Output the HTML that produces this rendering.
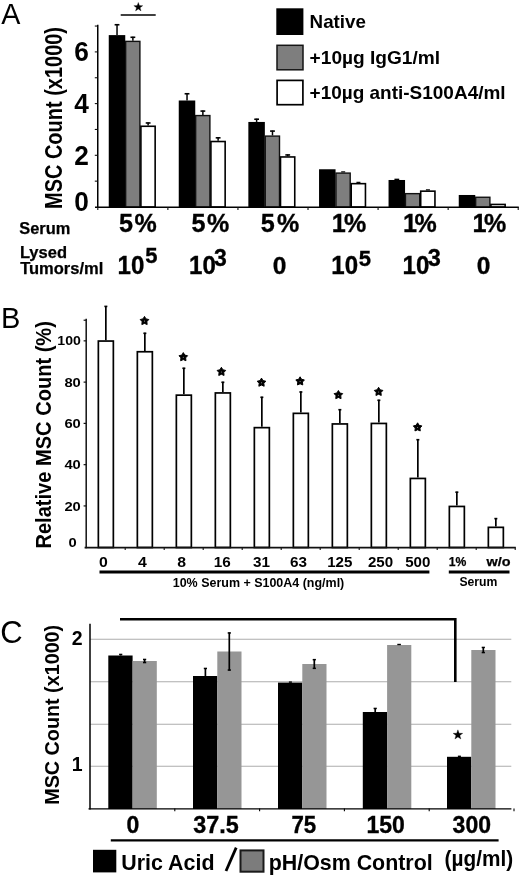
<!DOCTYPE html>
<html><head><meta charset="utf-8"><title>Figure</title>
<style>
html,body{margin:0;padding:0;background:#fff;}
svg{display:block;font-family:"Liberation Sans", sans-serif;}
</style></head><body>
<svg width="520" height="876" viewBox="0 0 520 876">
<rect x="0" y="0" width="520" height="876" fill="#fff"/>
<text x="1.30" y="23.50" font-size="28.7" font-weight="normal" text-anchor="start" fill="#000">A</text>
<line x1="117.03" y1="35.10" x2="117.03" y2="24.24" stroke="#000" stroke-width="1.5"/>
<line x1="114.62" y1="24.74" x2="119.43" y2="24.74" stroke="#000" stroke-width="1.6"/>
<rect x="108.75" y="35.10" width="16.50" height="171.90" fill="#000"/>
<line x1="132.88" y1="40.78" x2="132.88" y2="36.78" stroke="#000" stroke-width="1.5"/>
<line x1="130.47" y1="37.28" x2="135.28" y2="37.28" stroke="#000" stroke-width="1.6"/>
<rect x="125.65" y="41.38" width="14.25" height="165.62" fill="#7e7e7e" stroke="#111" stroke-width="1.4"/>
<line x1="148.12" y1="125.57" x2="148.12" y2="122.47" stroke="#000" stroke-width="1.5"/>
<line x1="145.72" y1="122.97" x2="150.53" y2="122.97" stroke="#000" stroke-width="1.6"/>
<rect x="140.90" y="126.27" width="14.25" height="80.73" fill="#fff" stroke="#000" stroke-width="1.6"/>
<line x1="187.03" y1="100.50" x2="187.03" y2="93.26" stroke="#000" stroke-width="1.5"/>
<line x1="184.62" y1="93.76" x2="189.43" y2="93.76" stroke="#000" stroke-width="1.6"/>
<rect x="178.75" y="100.50" width="16.50" height="106.50" fill="#000"/>
<line x1="202.88" y1="114.97" x2="202.88" y2="110.58" stroke="#000" stroke-width="1.5"/>
<line x1="200.47" y1="111.08" x2="205.28" y2="111.08" stroke="#000" stroke-width="1.6"/>
<rect x="195.65" y="115.57" width="14.25" height="91.43" fill="#7e7e7e" stroke="#111" stroke-width="1.4"/>
<line x1="218.12" y1="140.82" x2="218.12" y2="137.33" stroke="#000" stroke-width="1.5"/>
<line x1="215.72" y1="137.83" x2="220.53" y2="137.83" stroke="#000" stroke-width="1.6"/>
<rect x="210.90" y="141.52" width="14.25" height="65.48" fill="#fff" stroke="#000" stroke-width="1.6"/>
<line x1="256.62" y1="121.95" x2="256.62" y2="118.72" stroke="#000" stroke-width="1.5"/>
<line x1="254.22" y1="119.22" x2="259.02" y2="119.22" stroke="#000" stroke-width="1.6"/>
<rect x="248.35" y="121.95" width="16.50" height="85.05" fill="#000"/>
<line x1="272.48" y1="135.50" x2="272.48" y2="130.59" stroke="#000" stroke-width="1.5"/>
<line x1="270.08" y1="131.09" x2="274.88" y2="131.09" stroke="#000" stroke-width="1.6"/>
<rect x="265.25" y="136.10" width="14.25" height="70.90" fill="#7e7e7e" stroke="#111" stroke-width="1.4"/>
<line x1="287.73" y1="156.26" x2="287.73" y2="154.45" stroke="#000" stroke-width="1.5"/>
<line x1="285.33" y1="154.95" x2="290.12" y2="154.95" stroke="#000" stroke-width="1.6"/>
<rect x="280.50" y="156.96" width="14.25" height="50.04" fill="#fff" stroke="#000" stroke-width="1.6"/>
<rect x="319.05" y="169.26" width="16.50" height="37.74" fill="#000"/>
<line x1="341.18" y1="171.89" x2="345.18" y2="171.89" stroke="#000" stroke-width="1.2"/>
<rect x="335.95" y="173.09" width="14.25" height="33.91" fill="#7e7e7e" stroke="#111" stroke-width="1.4"/>
<line x1="356.43" y1="182.36" x2="360.43" y2="182.36" stroke="#000" stroke-width="1.2"/>
<rect x="351.20" y="183.66" width="14.25" height="23.34" fill="#fff" stroke="#000" stroke-width="1.6"/>
<line x1="396.82" y1="179.99" x2="396.82" y2="178.95" stroke="#000" stroke-width="1.5"/>
<line x1="394.43" y1="179.45" x2="399.22" y2="179.45" stroke="#000" stroke-width="1.6"/>
<rect x="388.55" y="179.99" width="16.50" height="27.01" fill="#000"/>
<rect x="405.45" y="193.64" width="14.25" height="13.36" fill="#7e7e7e" stroke="#111" stroke-width="1.4"/>
<line x1="425.93" y1="189.86" x2="429.93" y2="189.86" stroke="#000" stroke-width="1.2"/>
<rect x="420.70" y="191.16" width="14.25" height="15.84" fill="#fff" stroke="#000" stroke-width="1.6"/>
<rect x="458.75" y="194.98" width="16.50" height="12.02" fill="#000"/>
<rect x="475.65" y="197.26" width="14.25" height="9.74" fill="#7e7e7e" stroke="#111" stroke-width="1.4"/>
<rect x="490.90" y="204.44" width="14.25" height="2.56" fill="#fff" stroke="#000" stroke-width="1.6"/>
<line x1="97.75" y1="24.80" x2="97.75" y2="207.70" stroke="#000" stroke-width="1.5"/>
<line x1="95.00" y1="207.20" x2="518.80" y2="207.20" stroke="#000" stroke-width="1.6"/>
<line x1="97.80" y1="207.00" x2="97.80" y2="210.00" stroke="#111" stroke-width="1.1"/>
<line x1="167.87" y1="207.00" x2="167.87" y2="210.00" stroke="#111" stroke-width="1.1"/>
<line x1="237.94" y1="207.00" x2="237.94" y2="210.00" stroke="#111" stroke-width="1.1"/>
<line x1="308.01" y1="207.00" x2="308.01" y2="210.00" stroke="#111" stroke-width="1.1"/>
<line x1="378.08" y1="207.00" x2="378.08" y2="210.00" stroke="#111" stroke-width="1.1"/>
<line x1="448.15" y1="207.00" x2="448.15" y2="210.00" stroke="#111" stroke-width="1.1"/>
<line x1="518.22" y1="207.00" x2="518.22" y2="210.00" stroke="#111" stroke-width="1.1"/>
<line x1="94.80" y1="181.15" x2="97.60" y2="181.15" stroke="#111" stroke-width="1.1"/>
<line x1="94.80" y1="155.30" x2="97.60" y2="155.30" stroke="#111" stroke-width="1.1"/>
<line x1="94.80" y1="129.45" x2="97.60" y2="129.45" stroke="#111" stroke-width="1.1"/>
<line x1="94.80" y1="103.60" x2="97.60" y2="103.60" stroke="#111" stroke-width="1.1"/>
<line x1="94.80" y1="77.75" x2="97.60" y2="77.75" stroke="#111" stroke-width="1.1"/>
<line x1="94.80" y1="51.90" x2="97.60" y2="51.90" stroke="#111" stroke-width="1.1"/>
<line x1="94.80" y1="26.05" x2="97.60" y2="26.05" stroke="#111" stroke-width="1.1"/>
<text x="74.30" y="211.30" font-size="27" font-weight="bold" text-anchor="start" fill="#000" textLength="14.6" lengthAdjust="spacingAndGlyphs">0</text>
<text x="74.30" y="164.80" font-size="27" font-weight="bold" text-anchor="start" fill="#000" textLength="14.6" lengthAdjust="spacingAndGlyphs">2</text>
<text x="74.30" y="113.10" font-size="27" font-weight="bold" text-anchor="start" fill="#000" textLength="14.6" lengthAdjust="spacingAndGlyphs">4</text>
<text x="74.30" y="61.40" font-size="27" font-weight="bold" text-anchor="start" fill="#000" textLength="14.6" lengthAdjust="spacingAndGlyphs">6</text>
<text x="62.30" y="209.00" font-size="23.5" font-weight="bold" text-anchor="start" fill="#000" textLength="182" lengthAdjust="spacingAndGlyphs" transform="rotate(-90 62.30 209.00)">MSC Count (x1000)</text>
<line x1="120.70" y1="15.00" x2="155.70" y2="15.00" stroke="#000" stroke-width="1.7"/>
<polygon points="138.30,2.40 139.41,5.58 142.77,5.65 140.09,7.68 141.06,10.90 138.30,8.98 135.54,10.90 136.51,7.68 133.83,5.65 137.19,5.58" fill="#000" stroke="#000" stroke-width="0.3" stroke-linejoin="round"/>
<rect x="276.30" y="8.30" width="27.10" height="26.70" fill="#000"/>
<rect x="277.00" y="45.30" width="26.00" height="24.50" fill="#7e7e7e" stroke="#151515" stroke-width="1.5"/>
<rect x="277.10" y="80.40" width="25.80" height="24.30" fill="#fff" stroke="#000" stroke-width="1.7"/>
<text x="309.60" y="28.20" font-size="18.2" font-weight="bold" text-anchor="start" fill="#000" textLength="56.3" lengthAdjust="spacingAndGlyphs">Native</text>
<text x="309.60" y="63.80" font-size="18.2" font-weight="bold" text-anchor="start" fill="#000" textLength="130.5" lengthAdjust="spacingAndGlyphs">+10µg IgG1/ml</text>
<text x="309.60" y="98.80" font-size="18.2" font-weight="bold" text-anchor="start" fill="#000" textLength="196" lengthAdjust="spacingAndGlyphs">+10µg anti-S100A4/ml</text>
<text x="19.30" y="233.80" font-size="16.4" font-weight="bold" text-anchor="start" fill="#000" stroke="#000" stroke-width="0.25">Serum</text>
<text x="19.90" y="258.40" font-size="16.5" font-weight="bold" text-anchor="start" fill="#000" stroke="#000" stroke-width="0.25">Lysed</text>
<text x="20.20" y="273.90" font-size="16.5" font-weight="bold" text-anchor="start" fill="#000" stroke="#000" stroke-width="0.25">Tumors/ml</text>
<text x="119.10" y="232.20" font-size="25.2" font-weight="bold" text-anchor="start" fill="#000" stroke="#000" stroke-width="0.35">5</text>
<text x="134.60" y="232.20" font-size="25" font-weight="bold" text-anchor="start" fill="#000" stroke="#000" stroke-width="0.35">%</text>
<text x="191.60" y="232.20" font-size="25.2" font-weight="bold" text-anchor="start" fill="#000" stroke="#000" stroke-width="0.35">5</text>
<text x="207.10" y="232.20" font-size="25" font-weight="bold" text-anchor="start" fill="#000" stroke="#000" stroke-width="0.35">%</text>
<text x="260.85" y="232.20" font-size="25.2" font-weight="bold" text-anchor="start" fill="#000" stroke="#000" stroke-width="0.35">5</text>
<text x="277.10" y="232.20" font-size="25" font-weight="bold" text-anchor="start" fill="#000" stroke="#000" stroke-width="0.35">%</text>
<text x="331.70" y="232.20" font-size="25.2" font-weight="bold" text-anchor="start" fill="#000" stroke="#000" stroke-width="0.35">1</text>
<text x="344.10" y="232.20" font-size="25" font-weight="bold" text-anchor="start" fill="#000" stroke="#000" stroke-width="0.35">%</text>
<text x="402.95" y="232.20" font-size="25.2" font-weight="bold" text-anchor="start" fill="#000" stroke="#000" stroke-width="0.35">1</text>
<text x="414.60" y="232.20" font-size="25" font-weight="bold" text-anchor="start" fill="#000" stroke="#000" stroke-width="0.35">%</text>
<text x="472.45" y="232.20" font-size="25.2" font-weight="bold" text-anchor="start" fill="#000" stroke="#000" stroke-width="0.35">1</text>
<text x="484.10" y="232.20" font-size="25" font-weight="bold" text-anchor="start" fill="#000" stroke="#000" stroke-width="0.35">%</text>
<text x="117.50" y="273.70" font-size="25" font-weight="bold" text-anchor="start" fill="#000" textLength="26.8" lengthAdjust="spacingAndGlyphs" stroke="#000" stroke-width="0.35">10</text>
<text x="145.30" y="263.20" font-size="22" font-weight="bold" text-anchor="start" fill="#000" stroke="#000" stroke-width="0.35">5</text>
<text x="189.10" y="273.70" font-size="25" font-weight="bold" text-anchor="start" fill="#000" textLength="26.8" lengthAdjust="spacingAndGlyphs" stroke="#000" stroke-width="0.35">10</text>
<text x="214.10" y="265.60" font-size="23" font-weight="bold" text-anchor="start" fill="#000" stroke="#000" stroke-width="0.35">3</text>
<text x="279.60" y="273.50" font-size="24.5" font-weight="bold" text-anchor="middle" fill="#000" stroke="#000" stroke-width="0.35">0</text>
<text x="331.30" y="273.70" font-size="25" font-weight="bold" text-anchor="start" fill="#000" textLength="26.8" lengthAdjust="spacingAndGlyphs" stroke="#000" stroke-width="0.35">10</text>
<text x="358.70" y="265.50" font-size="22" font-weight="bold" text-anchor="start" fill="#000" stroke="#000" stroke-width="0.35">5</text>
<text x="402.60" y="273.70" font-size="25" font-weight="bold" text-anchor="start" fill="#000" textLength="26.8" lengthAdjust="spacingAndGlyphs" stroke="#000" stroke-width="0.35">10</text>
<text x="427.70" y="266.00" font-size="23.5" font-weight="bold" text-anchor="start" fill="#000" stroke="#000" stroke-width="0.35">3</text>
<text x="483.60" y="273.50" font-size="24.5" font-weight="bold" text-anchor="middle" fill="#000" stroke="#000" stroke-width="0.35">0</text>
<text x="1.10" y="327.50" font-size="29" font-weight="normal" text-anchor="start" fill="#000">B</text>
<line x1="105.85" y1="340.20" x2="105.85" y2="305.90" stroke="#000" stroke-width="1.7"/>
<line x1="104.35" y1="306.40" x2="107.35" y2="306.40" stroke="#000" stroke-width="1.6"/>
<rect x="98.35" y="341.05" width="15.00" height="206.45" fill="#fff" stroke="#000" stroke-width="1.7"/>
<line x1="144.85" y1="350.90" x2="144.85" y2="332.80" stroke="#000" stroke-width="1.7"/>
<line x1="143.35" y1="333.30" x2="146.35" y2="333.30" stroke="#000" stroke-width="1.6"/>
<rect x="137.35" y="351.75" width="15.00" height="195.75" fill="#fff" stroke="#000" stroke-width="1.7"/>
<polygon points="144.50,316.40 145.95,318.90 148.78,319.51 146.85,321.66 147.15,324.54 144.50,323.38 141.85,324.54 142.15,321.66 140.22,319.51 143.05,318.90" fill="#000" stroke="#000" stroke-width="1.0" stroke-linejoin="round"/>
<circle cx="144.50" cy="321.10" r="0.55" fill="#9a9a9a"/>
<line x1="183.85" y1="394.30" x2="183.85" y2="367.80" stroke="#000" stroke-width="1.7"/>
<line x1="182.35" y1="368.30" x2="185.35" y2="368.30" stroke="#000" stroke-width="1.6"/>
<rect x="176.35" y="395.15" width="15.00" height="152.35" fill="#fff" stroke="#000" stroke-width="1.7"/>
<polygon points="183.30,352.60 184.75,355.10 187.58,355.71 185.65,357.86 185.95,360.74 183.30,359.58 180.65,360.74 180.95,357.86 179.02,355.71 181.85,355.10" fill="#000" stroke="#000" stroke-width="1.0" stroke-linejoin="round"/>
<circle cx="183.30" cy="357.30" r="0.55" fill="#9a9a9a"/>
<line x1="222.85" y1="392.10" x2="222.85" y2="381.80" stroke="#000" stroke-width="1.7"/>
<line x1="221.35" y1="382.30" x2="224.35" y2="382.30" stroke="#000" stroke-width="1.6"/>
<rect x="215.35" y="392.95" width="15.00" height="154.55" fill="#fff" stroke="#000" stroke-width="1.7"/>
<polygon points="221.40,367.30 222.85,369.80 225.68,370.41 223.75,372.56 224.05,375.44 221.40,374.28 218.75,375.44 219.05,372.56 217.12,370.41 219.95,369.80" fill="#000" stroke="#000" stroke-width="1.0" stroke-linejoin="round"/>
<circle cx="221.40" cy="372.00" r="0.55" fill="#9a9a9a"/>
<line x1="261.85" y1="426.80" x2="261.85" y2="396.80" stroke="#000" stroke-width="1.7"/>
<line x1="260.35" y1="397.30" x2="263.35" y2="397.30" stroke="#000" stroke-width="1.6"/>
<rect x="254.35" y="427.65" width="15.00" height="119.85" fill="#fff" stroke="#000" stroke-width="1.7"/>
<polygon points="261.50,378.10 262.95,380.60 265.78,381.21 263.85,383.36 264.15,386.24 261.50,385.08 258.85,386.24 259.15,383.36 257.22,381.21 260.05,380.60" fill="#000" stroke="#000" stroke-width="1.0" stroke-linejoin="round"/>
<circle cx="261.50" cy="382.80" r="0.55" fill="#9a9a9a"/>
<line x1="300.85" y1="412.50" x2="300.85" y2="391.50" stroke="#000" stroke-width="1.7"/>
<line x1="299.35" y1="392.00" x2="302.35" y2="392.00" stroke="#000" stroke-width="1.6"/>
<rect x="293.35" y="413.35" width="15.00" height="134.15" fill="#fff" stroke="#000" stroke-width="1.7"/>
<polygon points="300.10,376.80 301.55,379.30 304.38,379.91 302.45,382.06 302.75,384.94 300.10,383.78 297.45,384.94 297.75,382.06 295.82,379.91 298.65,379.30" fill="#000" stroke="#000" stroke-width="1.0" stroke-linejoin="round"/>
<circle cx="300.10" cy="381.50" r="0.55" fill="#9a9a9a"/>
<line x1="339.85" y1="423.10" x2="339.85" y2="409.20" stroke="#000" stroke-width="1.7"/>
<line x1="338.35" y1="409.70" x2="341.35" y2="409.70" stroke="#000" stroke-width="1.6"/>
<rect x="332.35" y="423.95" width="15.00" height="123.55" fill="#fff" stroke="#000" stroke-width="1.7"/>
<polygon points="338.40,390.50 339.85,393.00 342.68,393.61 340.75,395.76 341.05,398.64 338.40,397.48 335.75,398.64 336.05,395.76 334.12,393.61 336.95,393.00" fill="#000" stroke="#000" stroke-width="1.0" stroke-linejoin="round"/>
<circle cx="338.40" cy="395.20" r="0.55" fill="#9a9a9a"/>
<line x1="378.85" y1="422.60" x2="378.85" y2="399.80" stroke="#000" stroke-width="1.7"/>
<line x1="377.35" y1="400.30" x2="380.35" y2="400.30" stroke="#000" stroke-width="1.6"/>
<rect x="371.35" y="423.45" width="15.00" height="124.05" fill="#fff" stroke="#000" stroke-width="1.7"/>
<polygon points="378.60,387.30 380.05,389.80 382.88,390.41 380.95,392.56 381.25,395.44 378.60,394.28 375.95,395.44 376.25,392.56 374.32,390.41 377.15,389.80" fill="#000" stroke="#000" stroke-width="1.0" stroke-linejoin="round"/>
<circle cx="378.60" cy="392.00" r="0.55" fill="#9a9a9a"/>
<line x1="417.85" y1="477.60" x2="417.85" y2="439.20" stroke="#000" stroke-width="1.7"/>
<line x1="416.35" y1="439.70" x2="419.35" y2="439.70" stroke="#000" stroke-width="1.6"/>
<rect x="410.35" y="478.45" width="15.00" height="69.05" fill="#fff" stroke="#000" stroke-width="1.7"/>
<polygon points="417.60,422.80 419.05,425.30 421.88,425.91 419.95,428.06 420.25,430.94 417.60,429.78 414.95,430.94 415.25,428.06 413.32,425.91 416.15,425.30" fill="#000" stroke="#000" stroke-width="1.0" stroke-linejoin="round"/>
<circle cx="417.60" cy="427.50" r="0.55" fill="#9a9a9a"/>
<line x1="456.85" y1="505.60" x2="456.85" y2="491.70" stroke="#000" stroke-width="1.7"/>
<line x1="455.35" y1="492.20" x2="458.35" y2="492.20" stroke="#000" stroke-width="1.6"/>
<rect x="449.35" y="506.45" width="15.00" height="41.05" fill="#fff" stroke="#000" stroke-width="1.7"/>
<line x1="495.85" y1="526.50" x2="495.85" y2="518.10" stroke="#000" stroke-width="1.7"/>
<line x1="494.35" y1="518.60" x2="497.35" y2="518.60" stroke="#000" stroke-width="1.6"/>
<rect x="488.35" y="527.35" width="15.00" height="20.15" fill="#fff" stroke="#000" stroke-width="1.7"/>
<line x1="86.20" y1="318.80" x2="86.20" y2="548.30" stroke="#111" stroke-width="1.5"/>
<line x1="84.60" y1="547.60" x2="515.80" y2="547.60" stroke="#111" stroke-width="1.6"/>
<line x1="125.20" y1="547.50" x2="125.20" y2="550.00" stroke="#111" stroke-width="1.1"/>
<line x1="164.20" y1="547.50" x2="164.20" y2="550.00" stroke="#111" stroke-width="1.1"/>
<line x1="203.20" y1="547.50" x2="203.20" y2="550.00" stroke="#111" stroke-width="1.1"/>
<line x1="242.20" y1="547.50" x2="242.20" y2="550.00" stroke="#111" stroke-width="1.1"/>
<line x1="281.20" y1="547.50" x2="281.20" y2="550.00" stroke="#111" stroke-width="1.1"/>
<line x1="320.20" y1="547.50" x2="320.20" y2="550.00" stroke="#111" stroke-width="1.1"/>
<line x1="359.20" y1="547.50" x2="359.20" y2="550.00" stroke="#111" stroke-width="1.1"/>
<line x1="398.20" y1="547.50" x2="398.20" y2="550.00" stroke="#111" stroke-width="1.1"/>
<line x1="437.20" y1="547.50" x2="437.20" y2="550.00" stroke="#111" stroke-width="1.1"/>
<line x1="476.20" y1="547.50" x2="476.20" y2="550.00" stroke="#111" stroke-width="1.1"/>
<line x1="515.20" y1="547.50" x2="515.20" y2="550.00" stroke="#111" stroke-width="1.1"/>
<line x1="83.60" y1="505.93" x2="86.20" y2="505.93" stroke="#111" stroke-width="1.2"/>
<line x1="83.60" y1="464.66" x2="86.20" y2="464.66" stroke="#111" stroke-width="1.2"/>
<line x1="83.60" y1="423.39" x2="86.20" y2="423.39" stroke="#111" stroke-width="1.2"/>
<line x1="83.60" y1="382.12" x2="86.20" y2="382.12" stroke="#111" stroke-width="1.2"/>
<line x1="83.60" y1="340.85" x2="86.20" y2="340.85" stroke="#111" stroke-width="1.2"/>
<line x1="83.60" y1="320.22" x2="86.20" y2="320.22" stroke="#111" stroke-width="1.2"/>
<text x="80.80" y="510.53" font-size="13.4" font-weight="bold" text-anchor="end" fill="#000" textLength="16.4" lengthAdjust="spacingAndGlyphs">20</text>
<text x="80.80" y="469.26" font-size="13.4" font-weight="bold" text-anchor="end" fill="#000" textLength="16.4" lengthAdjust="spacingAndGlyphs">40</text>
<text x="80.80" y="427.99" font-size="13.4" font-weight="bold" text-anchor="end" fill="#000" textLength="16.4" lengthAdjust="spacingAndGlyphs">60</text>
<text x="80.80" y="386.72" font-size="13.4" font-weight="bold" text-anchor="end" fill="#000" textLength="16.4" lengthAdjust="spacingAndGlyphs">80</text>
<text x="80.80" y="345.45" font-size="13.4" font-weight="bold" text-anchor="end" fill="#000" textLength="23.5" lengthAdjust="spacingAndGlyphs">100</text>
<text x="76.60" y="547.20" font-size="13.4" font-weight="bold" text-anchor="end" fill="#000" textLength="8.2" lengthAdjust="spacingAndGlyphs">0</text>
<text x="50.60" y="548.60" font-size="21.6" font-weight="bold" text-anchor="start" fill="#000" textLength="227.5" lengthAdjust="spacingAndGlyphs" transform="rotate(-90 50.60 548.60)">Relative MSC Count (%)</text>
<text x="103.50" y="567.30" font-size="15.2" font-weight="bold" text-anchor="middle" fill="#000" textLength="8.799999999999999" lengthAdjust="spacingAndGlyphs">0</text>
<text x="142.50" y="567.30" font-size="15.2" font-weight="bold" text-anchor="middle" fill="#000" textLength="8.799999999999999" lengthAdjust="spacingAndGlyphs">4</text>
<text x="181.60" y="567.30" font-size="15.2" font-weight="bold" text-anchor="middle" fill="#000" textLength="8.799999999999999" lengthAdjust="spacingAndGlyphs">8</text>
<text x="222.30" y="567.30" font-size="15.2" font-weight="bold" text-anchor="middle" fill="#000" textLength="17.0" lengthAdjust="spacingAndGlyphs">16</text>
<text x="261.60" y="567.30" font-size="15.2" font-weight="bold" text-anchor="middle" fill="#000" textLength="17.0" lengthAdjust="spacingAndGlyphs">31</text>
<text x="298.40" y="567.30" font-size="15.2" font-weight="bold" text-anchor="middle" fill="#000" textLength="17.0" lengthAdjust="spacingAndGlyphs">63</text>
<text x="339.80" y="567.30" font-size="15.2" font-weight="bold" text-anchor="middle" fill="#000" textLength="25.2" lengthAdjust="spacingAndGlyphs">125</text>
<text x="380.50" y="567.30" font-size="15.2" font-weight="bold" text-anchor="middle" fill="#000" textLength="25.2" lengthAdjust="spacingAndGlyphs">250</text>
<text x="417.80" y="567.30" font-size="15.2" font-weight="bold" text-anchor="middle" fill="#000" textLength="25.2" lengthAdjust="spacingAndGlyphs">500</text>
<text x="457.50" y="565.90" font-size="12.5" font-weight="bold" text-anchor="middle" fill="#000" textLength="17.6" lengthAdjust="spacingAndGlyphs" stroke="#000" stroke-width="0.25">1%</text>
<text x="498.50" y="565.90" font-size="12.5" font-weight="bold" text-anchor="middle" fill="#000" textLength="24" lengthAdjust="spacingAndGlyphs" stroke="#000" stroke-width="0.25">w/o</text>
<line x1="99.50" y1="572.10" x2="429.40" y2="572.10" stroke="#000" stroke-width="3"/>
<line x1="448.80" y1="572.10" x2="509.50" y2="572.10" stroke="#000" stroke-width="3"/>
<text x="258.50" y="586.90" font-size="12.6" font-weight="bold" text-anchor="middle" fill="#000" textLength="171.5" lengthAdjust="spacingAndGlyphs">10% Serum + S100A4 (ng/ml)</text>
<text x="478.40" y="585.90" font-size="12.6" font-weight="bold" text-anchor="middle" fill="#000" textLength="38" lengthAdjust="spacingAndGlyphs">Serum</text>
<text x="0.30" y="642.60" font-size="31" font-weight="normal" text-anchor="start" fill="#000">C</text>
<line x1="90.00" y1="639.30" x2="511.30" y2="639.30" stroke="#adadad" stroke-width="1.1"/>
<line x1="90.00" y1="681.80" x2="511.30" y2="681.80" stroke="#adadad" stroke-width="1.1"/>
<line x1="90.00" y1="724.30" x2="511.30" y2="724.30" stroke="#adadad" stroke-width="1.1"/>
<line x1="90.00" y1="766.30" x2="511.30" y2="766.30" stroke="#adadad" stroke-width="1.1"/>
<rect x="108.30" y="655.50" width="24.30" height="153.50" fill="#000"/>
<rect x="132.60" y="661.00" width="24.20" height="148.00" fill="#969696"/>
<line x1="120.70" y1="655.50" x2="120.70" y2="654.00" stroke="#000" stroke-width="1.7"/>
<line x1="119.10" y1="654.45" x2="122.30" y2="654.45" stroke="#000" stroke-width="1.5"/>
<line x1="144.60" y1="663.00" x2="144.60" y2="659.00" stroke="#000" stroke-width="1.7"/>
<line x1="143.00" y1="659.45" x2="146.20" y2="659.45" stroke="#000" stroke-width="1.5"/>
<line x1="143.00" y1="662.55" x2="146.20" y2="662.55" stroke="#000" stroke-width="1.5"/>
<rect x="193.00" y="676.00" width="24.30" height="133.00" fill="#000"/>
<rect x="217.30" y="651.50" width="24.20" height="157.50" fill="#969696"/>
<line x1="205.40" y1="676.00" x2="205.40" y2="668.00" stroke="#000" stroke-width="1.7"/>
<line x1="203.80" y1="668.45" x2="207.00" y2="668.45" stroke="#000" stroke-width="1.5"/>
<line x1="229.30" y1="670.50" x2="229.30" y2="632.50" stroke="#000" stroke-width="1.7"/>
<line x1="227.70" y1="632.95" x2="230.90" y2="632.95" stroke="#000" stroke-width="1.5"/>
<line x1="227.70" y1="670.05" x2="230.90" y2="670.05" stroke="#000" stroke-width="1.5"/>
<rect x="278.00" y="682.60" width="24.30" height="126.40" fill="#000"/>
<rect x="302.30" y="664.00" width="24.20" height="145.00" fill="#969696"/>
<line x1="288.90" y1="682.10" x2="291.90" y2="682.10" stroke="#000" stroke-width="1.4"/>
<line x1="314.30" y1="668.80" x2="314.30" y2="659.20" stroke="#000" stroke-width="1.7"/>
<line x1="312.70" y1="659.65" x2="315.90" y2="659.65" stroke="#000" stroke-width="1.5"/>
<line x1="312.70" y1="668.35" x2="315.90" y2="668.35" stroke="#000" stroke-width="1.5"/>
<rect x="362.80" y="712.00" width="24.30" height="97.00" fill="#000"/>
<rect x="387.10" y="645.00" width="24.20" height="164.00" fill="#969696"/>
<line x1="375.20" y1="712.00" x2="375.20" y2="708.00" stroke="#000" stroke-width="1.7"/>
<line x1="373.60" y1="708.45" x2="376.80" y2="708.45" stroke="#000" stroke-width="1.5"/>
<line x1="397.30" y1="644.50" x2="400.90" y2="644.50" stroke="#000" stroke-width="1.4"/>
<rect x="447.00" y="756.80" width="24.30" height="52.20" fill="#000"/>
<rect x="471.30" y="650.00" width="24.20" height="159.00" fill="#969696"/>
<line x1="457.90" y1="756.30" x2="460.90" y2="756.30" stroke="#000" stroke-width="1.4"/>
<line x1="483.30" y1="653.00" x2="483.30" y2="647.00" stroke="#000" stroke-width="1.7"/>
<line x1="481.70" y1="647.45" x2="484.90" y2="647.45" stroke="#000" stroke-width="1.5"/>
<line x1="481.70" y1="652.55" x2="484.90" y2="652.55" stroke="#000" stroke-width="1.5"/>
<line x1="90.00" y1="623.70" x2="90.00" y2="809.50" stroke="#000" stroke-width="1.5"/>
<line x1="88.50" y1="808.90" x2="511.40" y2="808.90" stroke="#000" stroke-width="1.4"/>
<line x1="174.80" y1="808.50" x2="174.80" y2="811.20" stroke="#000" stroke-width="1.1"/>
<line x1="259.60" y1="808.50" x2="259.60" y2="811.20" stroke="#000" stroke-width="1.1"/>
<line x1="344.40" y1="808.50" x2="344.40" y2="811.20" stroke="#000" stroke-width="1.1"/>
<line x1="429.20" y1="808.50" x2="429.20" y2="811.20" stroke="#000" stroke-width="1.1"/>
<line x1="514.00" y1="808.50" x2="514.00" y2="811.20" stroke="#000" stroke-width="1.1"/>
<text x="82.60" y="644.50" font-size="19.5" font-weight="bold" text-anchor="end" fill="#000">2</text>
<text x="82.60" y="771.30" font-size="19.5" font-weight="bold" text-anchor="end" fill="#000">1</text>
<text x="59.30" y="804.80" font-size="20.2" font-weight="bold" text-anchor="start" fill="#000" textLength="180" lengthAdjust="spacingAndGlyphs" transform="rotate(-90 59.30 804.80)">MSC Count (x1000)</text>
<polyline points="120,619.3 455.3,619.3 455.3,681.9" fill="none" stroke="#000" stroke-width="2.6"/>
<polygon points="457.90,729.80 459.10,733.25 462.75,733.32 459.84,735.53 460.90,739.03 457.90,736.94 454.90,739.03 455.96,735.53 453.05,733.32 456.70,733.25" fill="#000" stroke="#000" stroke-width="0.3" stroke-linejoin="round"/>
<text x="132.90" y="832.50" font-size="23.2" font-weight="bold" text-anchor="middle" fill="#000" textLength="12.8" lengthAdjust="spacingAndGlyphs" stroke="#000" stroke-width="0.35">0</text>
<text x="215.90" y="832.50" font-size="23.2" font-weight="bold" text-anchor="middle" fill="#000" textLength="45.5" lengthAdjust="spacingAndGlyphs" stroke="#000" stroke-width="0.35">37.5</text>
<text x="303.80" y="832.50" font-size="23.2" font-weight="bold" text-anchor="middle" fill="#000" textLength="24.8" lengthAdjust="spacingAndGlyphs" stroke="#000" stroke-width="0.35">75</text>
<text x="385.60" y="832.50" font-size="23.2" font-weight="bold" text-anchor="middle" fill="#000" textLength="38.4" lengthAdjust="spacingAndGlyphs" stroke="#000" stroke-width="0.35">150</text>
<text x="471.80" y="832.50" font-size="23.2" font-weight="bold" text-anchor="middle" fill="#000" textLength="38.4" lengthAdjust="spacingAndGlyphs" stroke="#000" stroke-width="0.35">300</text>
<line x1="110.80" y1="840.30" x2="498.60" y2="840.30" stroke="#000" stroke-width="2.3"/>
<rect x="93.00" y="849.80" width="23.30" height="22.60" fill="#000"/>
<text x="121.30" y="870.20" font-size="21.3" font-weight="bold" text-anchor="start" fill="#000" textLength="93.2" lengthAdjust="spacingAndGlyphs">Uric Acid</text>
<line x1="226.00" y1="871.00" x2="236.20" y2="847.60" stroke="#000" stroke-width="2.8"/>
<rect x="240.50" y="850.40" width="23.00" height="21.30" fill="#7c7c7c" stroke="#1a1a1a" stroke-width="2.0"/>
<text x="268.70" y="870.20" font-size="21.3" font-weight="bold" text-anchor="start" fill="#000" textLength="164" lengthAdjust="spacingAndGlyphs">pH/Osm Control</text>
<text x="444.60" y="865.50" font-size="21.3" font-weight="bold" text-anchor="start" fill="#000" textLength="68.6" lengthAdjust="spacingAndGlyphs">(µg/ml)</text>
</svg>
</body></html>
